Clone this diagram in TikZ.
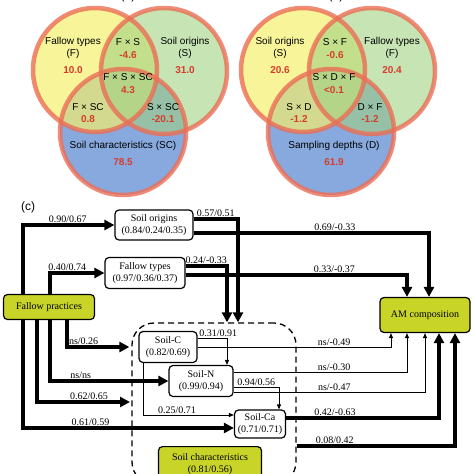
\documentclass[tikz,border=0pt]{standalone}
\usepackage{fontspec}
\setmainfont{Liberation Serif}
\setsansfont{Liberation Sans}
\usetikzlibrary{arrows.meta,positioning}
\definecolor{vred}{RGB}{235,110,85}
\definecolor{vyellow}{RGB}{245,240,110}
\definecolor{vgreen}{RGB}{160,210,130}
\definecolor{vblue}{RGB}{95,140,210}
\definecolor{vnum}{RGB}{215,60,45}
\definecolor{lime}{RGB}{200,212,40}
\tikzset{
  vring/.style={draw=vred,draw opacity=0.8,line width=4.5pt},
  vtxt/.style={font=\sffamily\fontsize{10}{12}\selectfont,align=center,inner sep=0pt},
  vnumber/.style={font=\sffamily\bfseries\fontsize{10}{12}\selectfont,text=vnum,inner sep=0pt},
  pbox/.style={draw,rounded corners=4pt,line width=1.2pt,align=center,
    font=\fontsize{10}{12}\selectfont,inner sep=2pt},
  gbox/.style={pbox,fill=lime},
  thickarr/.style={line width=3.2pt,-{Triangle[length=10pt,width=10pt]}},
  thinarr/.style={line width=0.9pt,-{Triangle[length=5pt,width=4pt]}},
  coef/.style={font=\fontsize{10}{11}\selectfont,inner sep=1pt,above}
}
\begin{document}
\begin{tikzpicture}[x=1pt,y=-1pt,line join=miter]
\useasboundingbox (0,0) rectangle (474,474);
% (a) Venn
\begin{scope}
\fill[vblue,fill opacity=0.75] (123,132) circle (63);
\fill[vyellow,fill opacity=0.7] (95,70) circle (62);
\fill[vgreen,fill opacity=0.6] (164,71) circle (63);
\draw[vring] (95,70) circle (62);
\draw[vring] (164,71) circle (63);
\draw[vring] (123,132) circle (63);
\node[vtxt] (aF) at (73,48) {Fallow types\\(F)};
\node[vnumber] (aFn) at (73,70) {10.0};
\node[vtxt] (aFS) at (128,42) {F × S};
\node[vnumber] (aFSn) at (128,55) {-4.6};
\node[vtxt] (aS) at (185,48) {Soil origins\\(S)};
\node[vnumber] (aSn) at (185,70) {31.0};
\node[vtxt] (aFSSC) at (128,77) {F × S × SC};
\node[vnumber] (aFSSCn) at (128,90) {4.3};
\node[vtxt] (aFSC) at (88,107) {F × SC};
\node[vnumber] (aFSCn) at (88,119) {0.8};
\node[vtxt] (aSSC) at (163,107) {S × SC};
\node[vnumber] (aSSCn) at (163,119) {-20.1};
\node[vtxt] (aSC) at (123,146) {Soil characteristics (SC)};
\node[vnumber] (aSCn) at (123,162) {78.5};
\node[vtxt,font=\sffamily\fontsize{12}{14}\selectfont] (alab) at (128,-4) {(a)};
\end{scope}
% (b) Venn
\begin{scope}[xshift=208pt]
\fill[vblue,fill opacity=0.75] (123,132) circle (63);
\fill[vyellow,fill opacity=0.7] (95,70) circle (62);
\fill[vgreen,fill opacity=0.6] (164,71) circle (63);
\draw[vring] (95,70) circle (62);
\draw[vring] (164,71) circle (63);
\draw[vring] (123,132) circle (63);
\node[vtxt] (bS) at (72,48) {Soil origins\\(S)};
\node[vnumber] (bSn) at (72,70) {20.6};
\node[vtxt] (bSF) at (127,42) {S × F};
\node[vnumber] (bSFn) at (127,55) {-0.6};
\node[vtxt] (bF) at (184,48) {Fallow types\\(F)};
\node[vnumber] (bFn) at (184,70) {20.4};
\node[vtxt] (bSDF) at (126,77) {S × D × F};
\node[vnumber] (bSDFn) at (126,90) {<0.1};
\node[vtxt] (bSD) at (91,107) {S × D};
\node[vnumber] (bSDn) at (91,119) {-1.2};
\node[vtxt] (bDF) at (162,107) {D × F};
\node[vnumber] (bDFn) at (162,119) {-1.2};
\node[vtxt] (bD) at (126,146) {Sampling depths (D)};
\node[vnumber] (bDn) at (126,162) {61.9};
\node[vtxt,font=\sffamily\fontsize{12}{14}\selectfont] (blab) at (128,-4) {(b)};
\end{scope}
% (c) path model
\node[vtxt,font=\sffamily\fontsize{12}{14}\selectfont] (clab) at (28,207) {(c)};
\node[pbox,minimum width=78pt,minimum height=30pt] (origins) at (154,225) {Soil origins\\(0.84/0.24/0.35)};
\node[pbox,minimum width=80pt,minimum height=31pt] (ftypes) at (145,273) {Fallow types\\(0.97/0.36/0.37)};
\node[gbox,minimum width=91pt,minimum height=25pt] (fprac) at (49,307) {Fallow practices};
\node[gbox,minimum width=90pt,minimum height=35pt] (amc) at (425,315) {AM composition};
\node[draw,dashed,dash pattern=on 6pt off 4pt,line width=1.3pt,rounded corners=22pt,
  minimum width=164pt,minimum height=161pt] (sbox) at (214,403.5) {};
\node[pbox,minimum width=58pt,minimum height=31pt] (soilc) at (168,347) {Soil-C\\(0.82/0.69)};
\node[pbox,minimum width=64pt,minimum height=31pt] (soiln) at (201,381) {Soil-N\\(0.99/0.94)};
\node[pbox,minimum width=51pt,minimum height=28pt] (soilca) at (260,424) {Soil-Ca\\(0.71/0.71)};
\node[gbox,minimum width=103pt,minimum height=34pt,anchor=north] (schar) at (210,446) {Soil characteristics\\(0.81/0.56)};
\coordinate (fp3) at (130,402);
% fallow practices
\draw[thickarr] ([xshift=20pt]fprac.north west) |- (origins.west) node[coef,pos=0.745]{0.90/0.67};
\draw[thickarr] ([xshift=47pt]fprac.north west) |- (ftypes.west) node[coef,pos=0.66]{0.40/0.74};
\draw[thickarr,shorten >=2pt] ([xshift=64pt]fprac.south west) |- (sbox.west |- soilc) node[coef,pos=0.63]{ns/0.26};
\draw[thickarr] ([xshift=47pt]fprac.south west) |- (soiln.west) node[coef,pos=0.63]{ns/ns};
\draw[thickarr] ([xshift=34pt]fprac.south west) |- (fp3) node[coef,pos=0.78]{0.62/0.65};
\draw[thickarr] ([xshift=20pt]fprac.south west) |- ([yshift=-4pt]soilca.west) node[coef,pos=0.66]{0.61/0.59};
% soil origins and fallow types
\draw[thickarr] ([yshift=6pt]origins.east) -| ([xshift=24pt]sbox.north) node[coef,pos=0.25]{0.57/0.51};
\draw[thickarr] ([yshift=-8pt]origins.east) -| ([xshift=4pt]amc.north) node[coef,pos=0.3]{0.69/-0.33};
\draw[thickarr] ([yshift=7pt]ftypes.east) -| ([xshift=13pt]sbox.north) node[coef,pos=0.25]{0.24/-0.33};
\draw[thickarr] ([yshift=-2pt]ftypes.east) -| ([xshift=-18pt]amc.north) node[coef,pos=0.336]{0.33/-0.37};
% soil characteristics
\draw[thinarr] ([yshift=9pt]soilc.east) -| ([xshift=26pt]soiln.north) node[coef,pos=0.35]{0.31/0.91};
\draw[thinarr] (soilc.east) -| ([xshift=-34pt]amc.south) node[coef,pos=0.353]{ns/-0.49};
\draw[thinarr] ([xshift=-25pt]soilc.south) |- ([yshift=9pt]soilca.west) node[coef,pos=0.687]{0.25/0.71};
\draw[thinarr] ([yshift=9pt]soiln.east) -| ([xshift=-18pt]amc.south) node[coef,pos=0.29]{ns/-0.30};
\draw[thinarr] ([yshift=-6pt]soiln.east) -| ([xshift=19pt]soilca.north) node[coef,pos=0.25]{0.94/0.56};
\draw[thinarr] ([yshift=-11pt]soiln.east) -| (amc.south) node[coef,pos=0.263]{ns/-0.47};
\draw[thickarr] ([yshift=6pt]soilca.east) -| ([xshift=14pt]amc.south) node[coef,pos=0.16]{0.42/-0.63};
\draw[thickarr] (sbox.east |- schar.north) -| ([xshift=30pt]amc.south) node[coef,pos=0.12]{0.08/0.42};
\end{tikzpicture}
\end{document}
